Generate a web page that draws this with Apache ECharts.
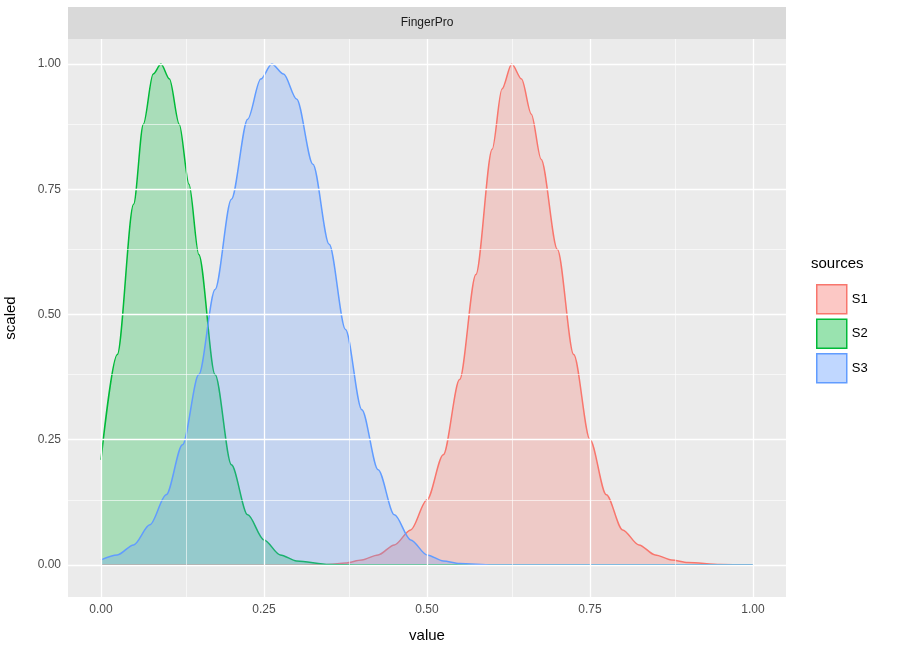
<!DOCTYPE html>
<html>
<head>
<meta charset="utf-8">
<script src="https://cdn.jsdelivr.net/npm/echarts@6/dist/echarts.min.js"></script>
<style>html,body{margin:0;padding:0;background:#fff}#c{width:903px;height:645px}</style>
</head>
<body>
<div id="c"></div>
<script>
// Значения (scaled density)
const s1X = [0, 0.1, 0.2, 0.3, 0.35, 0.375, 0.4, 0.425, 0.45, 0.475, 0.5, 0.525, 0.55, 0.575, 0.6, 0.615, 0.63, 0.645, 0.66, 0.675, 0.7, 0.725, 0.75, 0.775, 0.8, 0.825, 0.85, 0.875, 0.9, 0.95, 1];
const s1Y = [0, 0, 0, 0, 0.001, 0.004, 0.01, 0.02, 0.04, 0.07, 0.13, 0.22, 0.37, 0.58, 0.83, 0.95, 1.0, 0.97, 0.9, 0.81, 0.63, 0.42, 0.25, 0.14, 0.07, 0.04, 0.02, 0.01, 0.005, 0.001, 0];
const s2X = [0, 0.025, 0.05, 0.065, 0.08, 0.092, 0.105, 0.12, 0.135, 0.15, 0.175, 0.2, 0.225, 0.25, 0.275, 0.3, 0.35, 0.4, 0.6, 0.8, 1];
const s2Y = [0.21, 0.42, 0.72, 0.88, 0.98, 1.0, 0.97, 0.88, 0.76, 0.62, 0.38, 0.2, 0.1, 0.05, 0.02, 0.008, 0.001, 0, 0, 0, 0];
const s3X = [0, 0.025, 0.05, 0.075, 0.1, 0.125, 0.15, 0.175, 0.2, 0.225, 0.245, 0.262, 0.28, 0.3, 0.325, 0.35, 0.375, 0.4, 0.425, 0.45, 0.475, 0.5, 0.525, 0.55, 0.6, 0.8, 1];
const s3Y = [0.01, 0.02, 0.04, 0.08, 0.14, 0.24, 0.38, 0.55, 0.73, 0.89, 0.97, 1.0, 0.98, 0.93, 0.8, 0.64, 0.47, 0.31, 0.19, 0.1, 0.05, 0.02, 0.008, 0.003, 0, 0, 0];
const majorTicks = [0, 0.25, 0.5, 0.75, 1];
const minorTicks = [0.125, 0.375, 0.625, 0.875];
const sources = ["S1", "S2", "S3"];
const colors = ["#F8766D", "#00BA38", "#619CFF"];
const fills = ["rgba(248,118,109,0.4)", "rgba(0,186,56,0.4)", "rgba(97,156,255,0.4)"];

const zip = (xs, ys) => xs.map((x, i) => [x, ys[i]]);
const data = [zip(s1X, s1Y), zip(s2X, s2Y), zip(s3X, s3Y)];

const gridLines = [];
majorTicks.forEach(v => {
    gridLines.push({ xAxis: v, lineStyle: { width: 1.3 } });
    gridLines.push({ yAxis: v, lineStyle: { width: 1.3 } });
});
minorTicks.forEach(v => {
    gridLines.push({ xAxis: v, lineStyle: { width: 0.6 } });
    gridLines.push({ yAxis: v, lineStyle: { width: 0.6 } });
});

const chart = echarts.init(document.getElementById("c"));
const labelStyle = { color: "#4D4D4D", fontSize: 12, fontFamily: "Liberation Sans" };

chart.setOption({
    animation: false,
    textStyle: { fontFamily: "Liberation Sans" },
    grid: { left: 68, right: 117, top: 39, bottom: 48, show: true, backgroundColor: "#EBEBEB", borderWidth: 0, outerBoundsMode: "none", containLabel: false },
    xAxis: {
        type: "value", min: -0.0506, max: 1.0506,
        name: "value", nameLocation: "middle", nameGap: 31,
        nameTextStyle: { color: "#000", fontSize: 15 },
        axisLine: { show: false },
        axisTick: { show: true, customValues: majorTicks, length: 4, lineStyle: { color: "#333" } },
        axisLabel: Object.assign({ customValues: majorTicks, formatter: v => v.toFixed(2), margin: 7 }, labelStyle),
        splitLine: { show: false }
    },
    yAxis: {
        type: "value", min: -0.064, max: 1.05,
        name: "scaled", nameLocation: "middle", nameGap: 50, nameRotate: 90,
        nameTextStyle: { color: "#000", fontSize: 15 },
        axisLine: { show: false },
        axisTick: { show: true, customValues: majorTicks, length: 4, lineStyle: { color: "#333" } },
        axisLabel: Object.assign({ customValues: majorTicks, formatter: v => v.toFixed(2), margin: 7 }, labelStyle),
        splitLine: { show: false }
    },
    legend: {
        orient: "vertical", left: 811, top: 279, itemWidth: 30, itemHeight: 29, itemGap: 4,
        icon: "rect",
        textStyle: { color: "#000", fontSize: 13 },
        data: sources.map((s, i) => ({
            name: s,
            itemStyle: { color: fills[i], borderColor: colors[i], borderWidth: 1.5 }
        }))
    },
    graphic: [
        { type: "rect", shape: { x: 68, y: 7, width: 718, height: 32 }, style: { fill: "#D9D9D9" } },
        { type: "text", x: 427, y: 23, style: { text: "FingerPro", fill: "#1A1A1A", fontSize: 12, align: "center", verticalAlign: "middle", fontFamily: "Liberation Sans" } },
        { type: "text", x: 811, y: 264, style: { text: "sources", fill: "#000", fontSize: 15, verticalAlign: "middle", fontFamily: "Liberation Sans" } }
    ],
    series: [
        {
            type: "line", data: [], silent: true, z: 1,
            markLine: { silent: true, symbol: "none", label: { show: false }, lineStyle: { color: "#fff", type: "solid" }, data: gridLines }
        }
    ].concat(sources.map((s, i) => ({
        name: s, type: "line", data: data[i], smooth: 0.3, smoothMonotone: "x", showSymbol: false, z: 2 + i,
        lineStyle: { color: colors[i], width: 1.5 },
        itemStyle: { color: colors[i] },
        areaStyle: { color: fills[i], origin: 0 }
    })))
});
</script>
</body>
</html>
